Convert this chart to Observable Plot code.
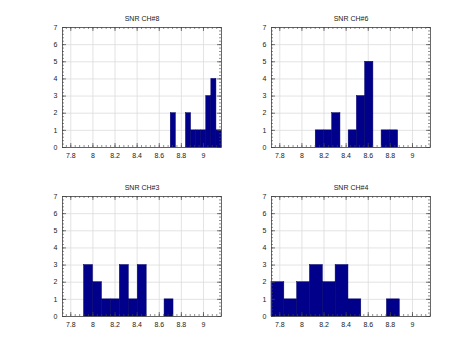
<!DOCTYPE html>
<html>
<head>
<meta charset="utf-8">
<script src="https://cdn.jsdelivr.net/npm/d3@7"></script>
<script src="https://cdn.jsdelivr.net/npm/@observablehq/plot@0.6"></script>
<style>
  html, body { margin: 0; padding: 0; background: #fff; }
  #chart { position: relative; width: 474px; height: 355px; background: #fff; overflow: hidden; }
  #chart svg { position: absolute; }
</style>
</head>
<body>
<div id="chart"></div>
<script>
// ---- data (10-bin histograms per channel) ----
const titles = ["SNR CH#8", "SNR CH#6", "SNR CH#3", "SNR CH#4"];
const binLo = [8.704, 8.125, 7.920, 7.725];
const binHi = [9.163, 8.870, 8.729, 8.885];
const countsCH8 = [2, 0, 0, 2, 1, 1, 1, 3, 4, 1];
const countsCH6 = [1, 1, 2, 0, 1, 3, 5, 0, 1, 1];
const countsCH3 = [3, 2, 1, 1, 3, 1, 3, 0, 0, 1];
const countsCH4 = [2, 1, 2, 3, 2, 3, 1, 0, 0, 1];
const xTickLabels = [7.8, 8, 8.2, 8.4, 8.6, 8.8, 9];
const yTickLabels = [0, 1, 2, 3, 4, 5, 6, 7];
const xDomain = [7.725, 9.163];
const yDomain = [0, 7];

const allCounts = [countsCH8, countsCH6, countsCH3, countsCH4];
const xMinor = d3.range(7.76, 9.17, 0.04).map(v => +v.toFixed(2));
const yMinor = d3.range(0, 7.01, 0.2).map(v => +v.toFixed(1));

const W = 237, H = 175;
const mL = 62, mR = 16, mT = 27, mB = 28;
const plotH = H - mT - mB, plotW = W - mL - mR;
const positions = [[0, 0], [209, 0], [0, 169], [209, 169]];
const axisColor = "#444";
const font = "Liberation Sans, Arial, sans-serif";

const root = document.getElementById("chart");

titles.forEach((title, k) => {
  const counts = allCounts[k];
  const lo = binLo[k], hi = binHi[k], n = counts.length;
  const w = (hi - lo) / n;
  const bins = counts.map((c, i) => ({x1: lo + i * w, x2: lo + (i + 1) * w, c})).filter(d => d.c > 0);

  const svg = Plot.plot({
    width: W, height: H,
    marginLeft: mL, marginRight: mR, marginTop: mT, marginBottom: mB,
    style: {background: "transparent", fontFamily: font, fontSize: "7px", color: "#222", overflow: "visible"},
    x: {domain: xDomain, label: null},
    y: {domain: yDomain, label: null},
    marks: [
      Plot.gridX(xTickLabels, {stroke: "#dcdcdc", strokeOpacity: 1, strokeWidth: 0.8}),
      Plot.gridY(yTickLabels, {stroke: "#dcdcdc", strokeOpacity: 1, strokeWidth: 0.8}),
      Plot.rect(bins, {x1: "x1", x2: "x2", y1: 0, y2: "c", fill: "#00008b", stroke: "#000066", strokeWidth: 0.5}),
      // inward minor ticks
      Plot.tickX(xMinor, {x: d => d, insetTop: plotH - 2, stroke: axisColor, strokeWidth: 0.6}),
      Plot.tickX(xMinor, {x: d => d, insetBottom: plotH - 2, stroke: axisColor, strokeWidth: 0.6}),
      Plot.tickY(yMinor, {y: d => d, insetRight: plotW - 2, stroke: axisColor, strokeWidth: 0.6}),
      Plot.tickY(yMinor, {y: d => d, insetLeft: plotW - 2, stroke: axisColor, strokeWidth: 0.6}),
      // inward major ticks
      Plot.tickX(xTickLabels, {x: d => d, insetTop: plotH - 4, stroke: axisColor, strokeWidth: 0.7}),
      Plot.tickX(xTickLabels, {x: d => d, insetBottom: plotH - 4, stroke: axisColor, strokeWidth: 0.7}),
      Plot.tickY(yTickLabels, {y: d => d, insetRight: plotW - 4, stroke: axisColor, strokeWidth: 0.7}),
      Plot.tickY(yTickLabels, {y: d => d, insetLeft: plotW - 4, stroke: axisColor, strokeWidth: 0.7}),
      Plot.frame({stroke: axisColor, strokeWidth: 0.8}),
      Plot.axisX(xTickLabels, {tickSize: 0, tickPadding: 6, tickFormat: d => String(d), label: null, fontSize: 7}),
      Plot.axisY(yTickLabels, {tickSize: 0, tickPadding: 5, tickFormat: d => String(d), label: null, fontSize: 7}),
      Plot.text([title], {frameAnchor: "top", dy: -11, text: d => d, fontSize: 7, fill: "#222"})
    ]
  });
  svg.style.left = positions[k][0] + "px";
  svg.style.top = positions[k][1] + "px";
  root.appendChild(svg);
});
</script>
</body>
</html>
